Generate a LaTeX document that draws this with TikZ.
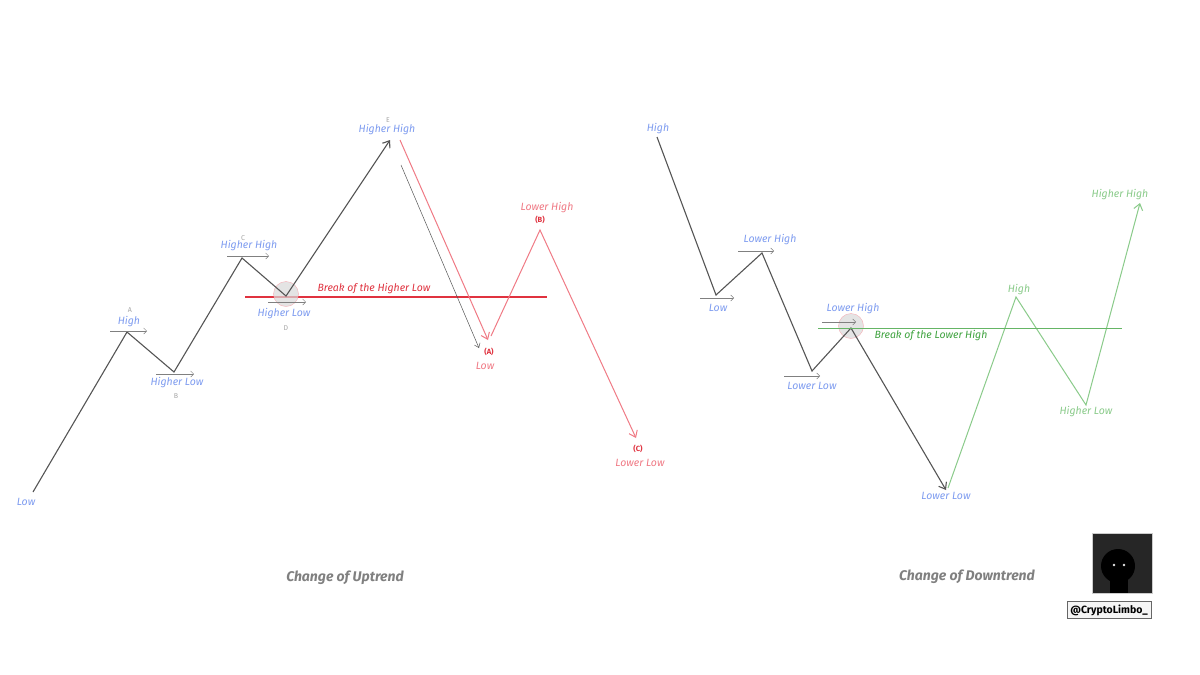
\documentclass[tikz,border=0pt]{standalone}
\usepackage{fontspec}
\setmainfont{Fira Sans}
\usetikzlibrary{arrows.meta}
\definecolor{blu}{HTML}{7E9CF0}
\definecolor{lightred}{HTML}{F07A85}
\definecolor{breakred}{HTML}{E0323F}
\definecolor{lightgreen}{HTML}{8ACB8A}
\definecolor{breakgreen}{HTML}{3FA33F}
\definecolor{ln}{HTML}{555555}
\tikzset{
 lbl/.style={font=\fontsize{10.5}{11}\selectfont\itshape, text=blu, inner sep=0pt},
 tiny/.style={font=\fontsize{7}{7}\selectfont, text=gray!70, inner sep=0pt},
 tinyr/.style={font=\fontsize{7.5}{8}\selectfont\bfseries, text=breakred, inner sep=0pt},
 main/.style={draw=ln, line width=1.1pt},
 ar/.style={-{Straight Barb[length=6pt,width=9pt]}},
 sm/.style={draw=gray, line width=0.5pt, -{Straight Barb[length=3pt,width=6pt]}},
 circ/.style={circle, draw=lightred!60, fill=gray!30, fill opacity=0.7, minimum size=25pt, inner sep=0pt},
 title/.style={font=\fontsize{14}{15}\selectfont\bfseries\itshape, text=gray}
}
\begin{document}
\begin{tikzpicture}[x=1pt,y=-1pt]
\useasboundingbox[fill=white] (0,0) rectangle (1200,675);
% ---- left ----
\coordinate (brkA) at (245,297); \coordinate (brkB) at (547,297);
\draw[color=breakred,line width=1.2pt] (brkA)--(brkB);
\coordinate (p0) at (33,492); \coordinate (p1) at (127,332); \coordinate (p2) at (174,372);
\coordinate (p3) at (242,258); \coordinate (p4) at (286,296); \coordinate (p5) at (390,140);
\node[circ] (c1) at (286,294) {};
\draw[main,ar] (p0)--(p1)--(p2)--(p3)--(p4)--(p5);
\coordinate (r0) at (400,140); \coordinate (r1) at (488,340);
\coordinate (r2) at (491,336); \coordinate (r3) at (540,230); \coordinate (r4) at (636,438);
\draw[draw=lightred,line width=1pt,ar] (r0)--(r1);
\draw[draw=lightred,line width=1pt,ar] (r2)--(r3)--(r4);
\coordinate (g0) at (401,165); \coordinate (g1) at (479,348);
\draw[draw=ln,line width=0.5pt,-{Straight Barb[length=4pt,width=6pt]}] (g0)--(g1);
\coordinate (a1) at (110,331); \coordinate (a2) at (147,331); \draw[sm] (a1)--(a2);
\coordinate (a3) at (156,374); \coordinate (a4) at (194,374); \draw[sm] (a3)--(a4);
\coordinate (a5) at (227,256); \coordinate (a6) at (269,256); \draw[sm] (a5)--(a6);
\coordinate (a7) at (268,302); \coordinate (a8) at (306,302); \draw[sm] (a7)--(a8);
\node[lbl] (t1) at (26,502) {Low};
\node[tiny] (t2) at (130,310) {A}; \node[lbl] (t3) at (129,322) {High};
\node[lbl] (t4) at (177,383) {Higher Low}; \node[tiny] (t5) at (176,396) {B};
\node[tiny] (t6) at (243,238) {C}; \node[lbl] (t7) at (249,246) {Higher High};
\node[lbl] (t8) at (284,314) {Higher Low}; \node[tiny] (t9) at (286,328) {D};
\node[tiny] (t10) at (388,120) {E}; \node[lbl] (t11) at (387,130) {Higher High};
\node[lbl,text=breakred] (t12) at (374,289) {Break of the Higher Low};
\node[tinyr] (t13) at (489,352) {(A)}; \node[lbl,text=lightred] (t14) at (485,366) {Low};
\node[lbl,text=lightred] (t15) at (547,208) {Lower High}; \node[tinyr] (t16) at (540,220) {(B)};
\node[tinyr] (t17) at (638,449) {(C)}; \node[lbl,text=lightred] (t18) at (640,463) {Lower Low};
% ---- right ----
\coordinate (q0) at (657,137); \coordinate (q1) at (716,295); \coordinate (q2) at (762,253);
\coordinate (q3) at (812,371); \coordinate (q4) at (851,328); \coordinate (q5) at (946,490);
\node[circ] (c2) at (851,326) {};
\draw[main,ar] (q0)--(q1)--(q2)--(q3)--(q4)--(q5);
\coordinate (s0) at (948,488); \coordinate (s1) at (1016,297); \coordinate (s2) at (1086,405); \coordinate (s3) at (1140,203);
\draw[draw=lightgreen,line width=1pt,ar] (s0)--(s1)--(s2)--(s3);
\coordinate (k0) at (818,328); \coordinate (k1) at (1122,328);
\draw[draw=breakgreen!80,line width=1pt] (k0)--(k1);
\coordinate (b1) at (700,298); \coordinate (b2) at (734,298); \draw[sm] (b1)--(b2);
\coordinate (b3) at (738,251); \coordinate (b4) at (774,251); \draw[sm] (b3)--(b4);
\coordinate (b5) at (784,376); \coordinate (b6) at (820,376); \draw[sm] (b5)--(b6);
\coordinate (b7) at (822,322); \coordinate (b8) at (856,322); \draw[sm] (b7)--(b8);
\node[lbl] (u1) at (658,129) {High};
\node[lbl] (u2) at (718,308) {Low};
\node[lbl] (u3) at (770,240) {Lower High};
\node[lbl] (u4) at (812,386) {Lower Low};
\node[lbl] (u5) at (853,309) {Lower High};
\node[lbl,text=breakgreen] (u6) at (931,336) {Break of the Lower High};
\node[lbl] (u7) at (946,496) {Lower Low};
\node[lbl,text=lightgreen] (u8) at (1019,290) {High};
\node[lbl,text=lightgreen] (u9) at (1086,412) {Higher Low};
\node[lbl,text=lightgreen] (u10) at (1120,195) {Higher High};
% ---- titles ----
\node[title] (T1) at (345,578) {Change of Uptrend};
\node[title] (T2) at (967,577) {Change of Downtrend};
% avatar
\node[draw=gray!40, fill=black!85, minimum size=60pt, inner sep=0pt] (av) at (1122,563) {};
\fill[black] (1118,566) circle (17pt);
\fill[black] (1110,580) rectangle (1128,593);
\fill[white!80!gray] (1114,565) circle (1.3pt) (1124,565) circle (1.3pt);
\node[draw=black!60, fill=gray!8, font=\fontsize{10.5}{11}\selectfont\bfseries, inner sep=3pt, minimum width=82pt] (nm) at (1109,610) {@CryptoLimbo\_};
\end{tikzpicture}
\end{document}
